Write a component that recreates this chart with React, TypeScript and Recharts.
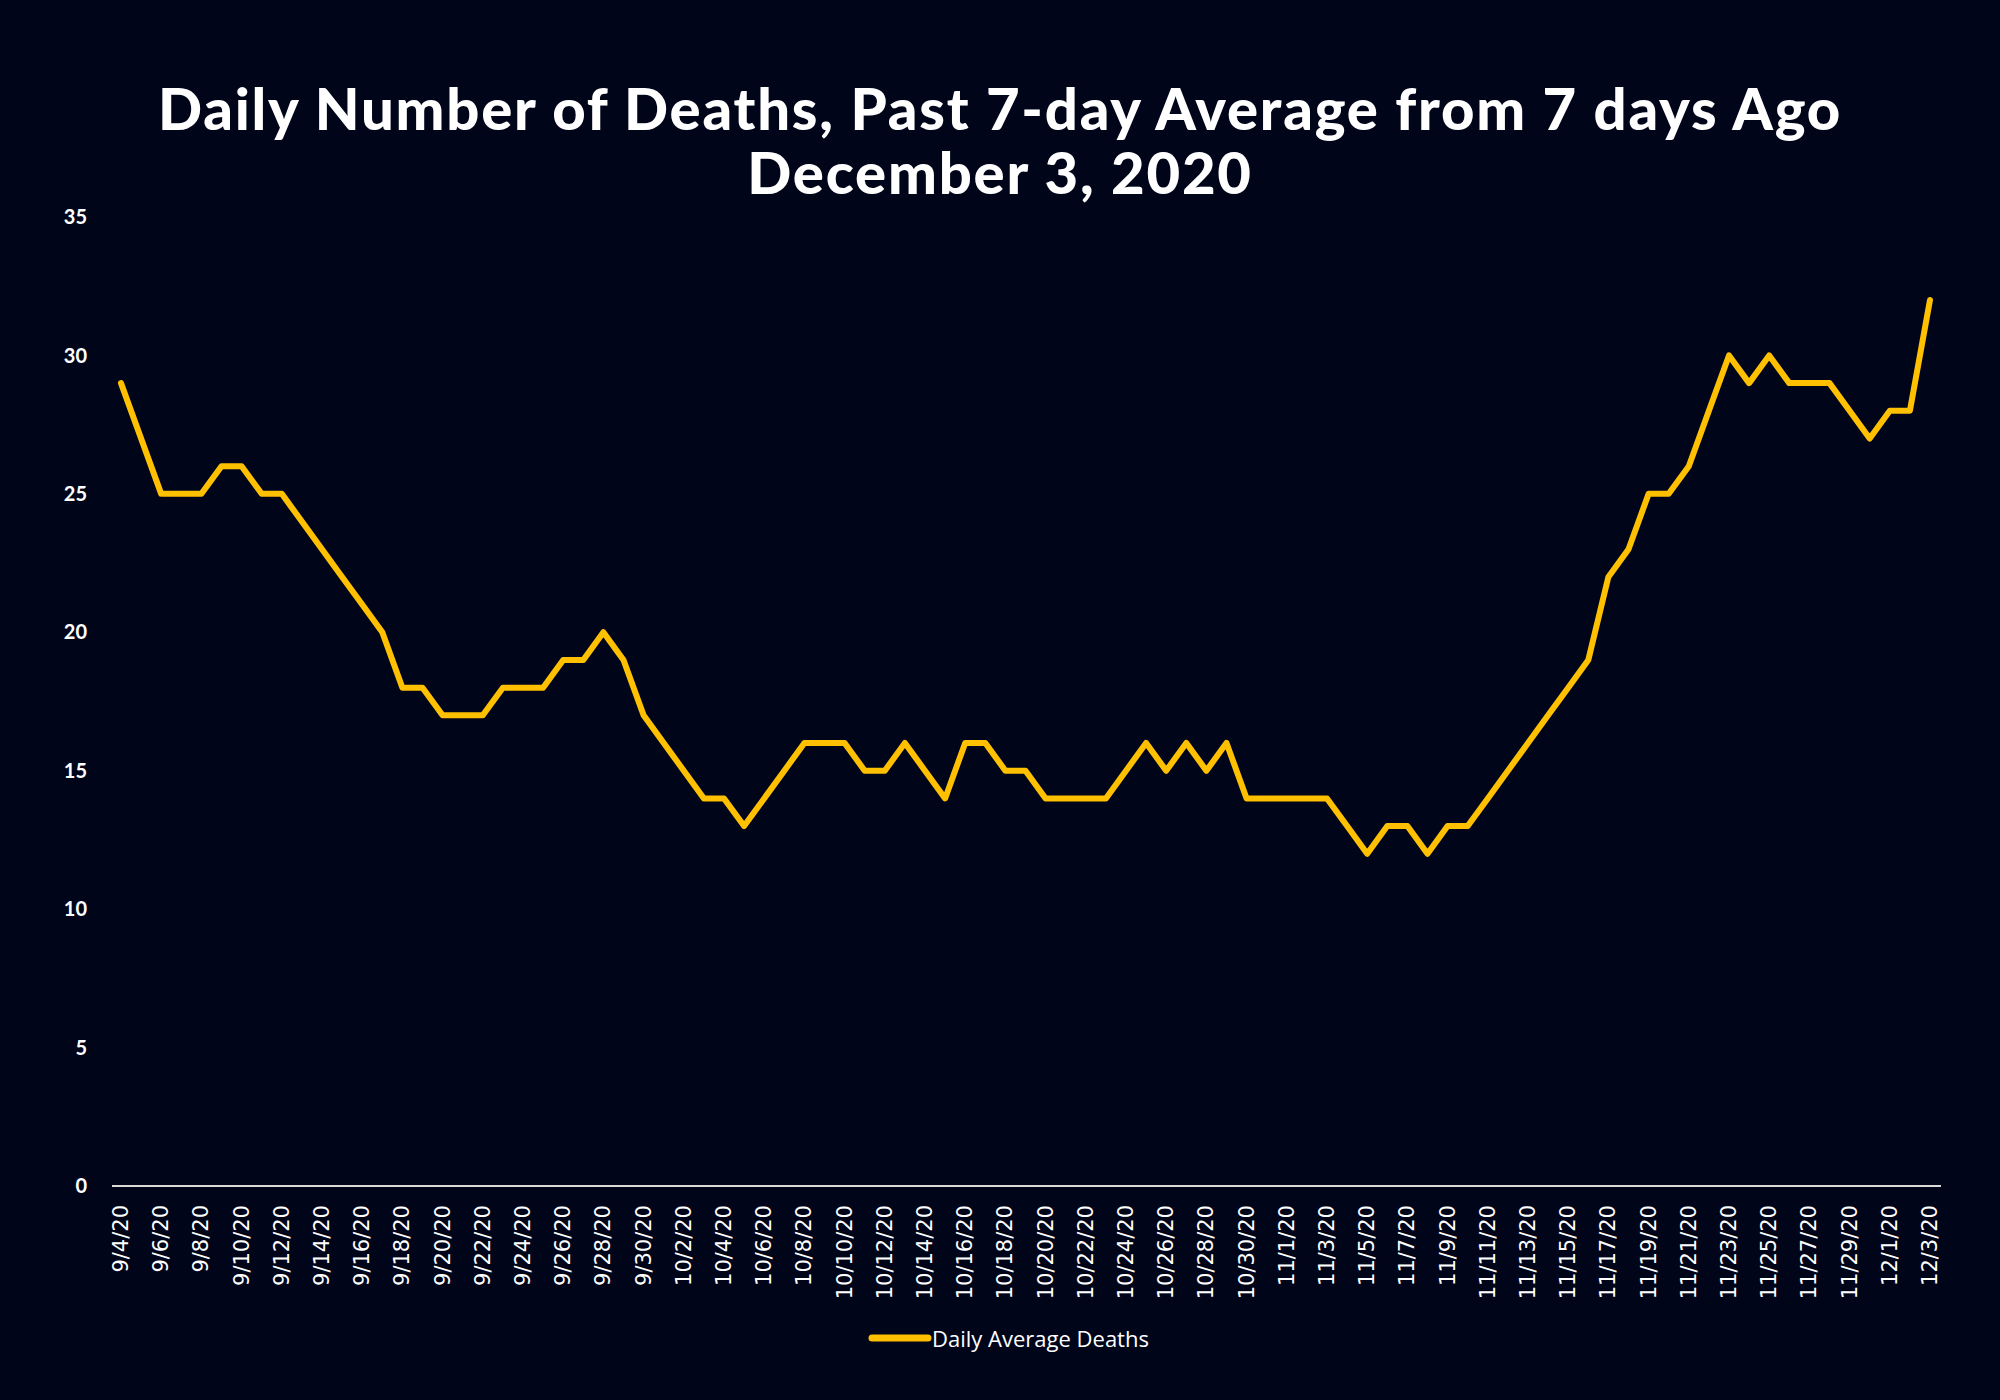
import { LineChart, Line, XAxis, YAxis, Legend } from 'recharts'

const dates = [
  '9/4/20', '9/5/20', '9/6/20', '9/7/20', '9/8/20', '9/9/20', '9/10/20', '9/11/20', '9/12/20', '9/13/20',
  '9/14/20', '9/15/20', '9/16/20', '9/17/20', '9/18/20', '9/19/20', '9/20/20', '9/21/20', '9/22/20', '9/23/20',
  '9/24/20', '9/25/20', '9/26/20', '9/27/20', '9/28/20', '9/29/20', '9/30/20',
  '10/1/20', '10/2/20', '10/3/20', '10/4/20', '10/5/20', '10/6/20', '10/7/20', '10/8/20', '10/9/20', '10/10/20',
  '10/11/20', '10/12/20', '10/13/20', '10/14/20', '10/15/20', '10/16/20', '10/17/20', '10/18/20', '10/19/20',
  '10/20/20', '10/21/20', '10/22/20', '10/23/20', '10/24/20', '10/25/20', '10/26/20', '10/27/20', '10/28/20',
  '10/29/20', '10/30/20', '10/31/20',
  '11/1/20', '11/2/20', '11/3/20', '11/4/20', '11/5/20', '11/6/20', '11/7/20', '11/8/20', '11/9/20', '11/10/20',
  '11/11/20', '11/12/20', '11/13/20', '11/14/20', '11/15/20', '11/16/20', '11/17/20', '11/18/20', '11/19/20',
  '11/20/20', '11/21/20', '11/22/20', '11/23/20', '11/24/20', '11/25/20', '11/26/20', '11/27/20', '11/28/20',
  '11/29/20', '11/30/20',
  '12/1/20', '12/2/20', '12/3/20',
]

const deaths = [
  29, 27, 25, 25, 25, 26, 26, 25, 25, 24,
  23, 22, 21, 20, 18, 18, 17, 17, 17, 18,
  18, 18, 19, 19, 20, 19, 17, 16, 15, 14,
  14, 13, 14, 15, 16, 16, 16, 15, 15, 16,
  15, 14, 16, 16, 15, 15, 14, 14, 14, 14,
  15, 16, 15, 16, 15, 16, 14, 14, 14, 14,
  14, 13, 12, 13, 13, 12, 13, 13, 14, 15,
  16, 17, 18, 19, 22, 23, 25, 25, 26, 28,
  30, 29, 30, 29, 29, 29, 28, 27, 28, 28, 32,
]

const yTicks = [0, 5, 10, 15, 20, 25, 30, 35]

const data = dates.map((date, i) => ({ date, deaths: deaths[i] }))

const BG = '#00051a'
const GOLD = '#ffc000'

function DateTick({ x, y, payload }: any) {
  return (
    <text
      x={x}
      y={y}
      transform={`rotate(-90, ${x}, ${y})`}
      textAnchor="end"
      dominantBaseline="central"
      fill="#ffffff"
      fontSize={21}
      fontFamily="DejaVu Sans"
    >
      {payload.value}
    </text>
  )
}

function LegendContent() {
  return (
    <div style={{ display: 'flex', alignItems: 'center', justifyContent: 'center', paddingLeft: 76 }}>
      <svg width={64} height={20}>
        <line x1={4} y1={10} x2={60} y2={10} stroke={GOLD} strokeWidth={7} strokeLinecap="round" />
      </svg>
      <span style={{ color: '#ffffff', fontSize: 22, fontFamily: 'Open Sans' }}>Daily Average Deaths</span>
    </div>
  )
}

const titleStyle = {
  position: 'absolute' as const,
  left: 0,
  width: 2000,
  height: 60,
  textAlign: 'center' as const,
  color: '#ffffff',
  fontFamily: 'Lato',
  fontWeight: 900,
  fontSize: 58,
  letterSpacing: 1.8,
  lineHeight: '60px',
}

export default function App() {
  return (
    <div style={{ position: 'absolute', left: 0, top: 0, width: 2000, height: 1400, background: BG }}>
      <div style={{ ...titleStyle, top: 78 }}>Daily Number of Deaths, Past 7-day Average from 7 days Ago</div>
      <div style={{ ...titleStyle, top: 142 }}>December 3, 2020</div>
      <LineChart
        width={2000}
        height={1400}
        data={data}
        margin={{ top: 217, right: 59, bottom: 47, left: 0 }}
      >
        <XAxis
          dataKey="date"
          interval={1}
          tick={<DateTick />}
          tickLine={false}
          tickMargin={13}
          height={137}
          padding={{ left: 9, right: 11 }}
          axisLine={{ stroke: '#d9d9d9', strokeWidth: 2 }}
        />
        <YAxis
          domain={[0, 35]}
          ticks={yTicks}
          width={112}
          axisLine={false}
          tickLine={false}
          tickMargin={19}
          tick={{ fill: '#ffffff', fontSize: 20, fontFamily: 'Lato', fontWeight: 700 }}
        />
        <Legend verticalAlign="bottom" height={30} content={<LegendContent />} />
        <Line
          type="linear"
          dataKey="deaths"
          name="Daily Average Deaths"
          stroke={GOLD}
          strokeWidth={6}
          strokeLinejoin="round"
          strokeLinecap="round"
          dot={false}
          isAnimationActive={false}
        />
      </LineChart>
    </div>
  )
}
